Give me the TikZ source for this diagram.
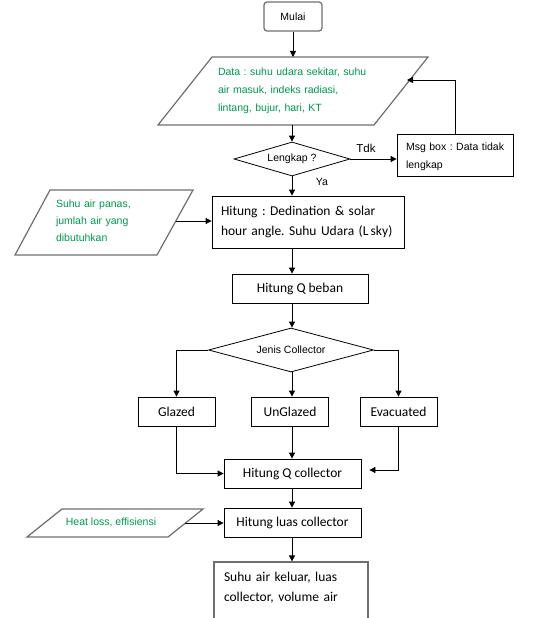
\documentclass[tikz,border=0pt]{standalone}
\usepackage{fontspec}
\setmainfont{Liberation Sans}
\newfontfamily\calib{Carlito}
\usetikzlibrary{shapes.geometric,arrows.meta}
\definecolor{inputgreen}{RGB}{0,150,80}
\definecolor{framegray}{RGB}{110,110,110}
\frenchspacing

\begin{document}
\begin{tikzpicture}[x=1pt,y=-1pt,line width=0.8pt,>={Triangle[length=6pt,width=6pt]},
    every node/.style={inner sep=0pt},
    proc/.style={draw,minimum height=29pt,font=\calib\fontsize{13.5}{20}\selectfont},
    choice/.style={draw,diamond,aspect=3.5,font=\fontsize{10.5}{12}\selectfont},
    inout/.style={draw=framegray,line width=1.2pt},
    greentext/.style={text=inputgreen,align=left,font=\fontsize{10.5}{18}\selectfont},
    arial/.style={align=left,font=\fontsize{10.5}{18}\selectfont}]
  \clip (0,0) rectangle (558,618);

  % input parallelograms
  \draw[inout] (212,57) -- (428,57) -- (374,125) -- (158,125) -- cycle;
  \draw[inout] (50,190) -- (193,190) -- (157,255) -- (15,255) -- cycle;
  \draw[inout] (62,509) -- (203,509) -- (168,537) -- (27,537) -- cycle;
  \coordinate (Dtop) at (292,57);
  \coordinate (Dbot) at (292,125);
  \coordinate (Din)  at (407,80);
  \coordinate (Pout) at (176,221);
  \coordinate (Hout) at (185,523);

  \node(Mulai) at (293,16.5) [draw=framegray,line width=1.2pt,rounded corners=3pt,
      minimum width=58pt,minimum height=29pt,arial] {Mulai};
  \node(Data) at (294,91) [greentext,text width=152pt]
      {Data : suhu udara sekitar, suhu\\air masuk, indeks radiasi,\\lintang, bujur, hari, KT};
  \node(Lengkap) at (292,159) [choice,minimum width=116pt,minimum height=34pt] {Lengkap ?};
  \node(Msg) at (455,155) [draw,minimum width=116pt,minimum height=42pt] {};
  \node(MsgText) at (456,157) [arial,text width=100pt] {Msg box : Data tidak\\lengkap};
  \node(Tdk) at (366,148) [font=\fontsize{11.5}{12}\selectfont] {Tdk};
  \node(Ya) at (322,182) [font=\fontsize{10.5}{12}\selectfont] {Ya};

  \node(Panas) at (96,221) [greentext,text width=80pt,font=\fontsize{10.5}{17}\selectfont]
      {Suhu air panas,\\jumlah air yang\\dibutuhkan};
  \node(Hitung) at (308,222) [proc,minimum width=192pt,minimum height=52pt,text width=174pt,align=left]
      {Hitung : Dedination \& solar\\hour angle. Suhu Udara (L\,sky)};
  \node(Beban) at (300,288.5) [proc,minimum width=136pt] {Hitung Q beban};
  \node(Jenis) at (291,350) [choice,minimum width=165pt,minimum height=44pt] {Jenis Collector};

  \node(Glazed)   at (176.5,411.5) [proc,minimum width=77pt] {Glazed};
  \node(UnGlazed) at (290,411.5)   [proc,minimum width=77pt] {UnGlazed};
  \node(Evac)     at (398.5,411.5) [proc,minimum width=77pt] {Evacuated};

  \node(QColl) at (292.5,473.5) [proc,minimum width=137pt] {Hitung Q collector};
  \node(Heat)  at (111,522) [greentext] {Heat loss, effisiensi};
  \node(QLuas) at (292.5,522.5) [proc,minimum width=137pt] {Hitung luas collector};
  \node(Out) at (291,597) [draw=framegray,line width=1.2pt,minimum width=154pt,minimum height=70pt,
      text width=134pt,align=left,font=\calib\fontsize{13.5}{20}\selectfont]
      {Suhu air keluar, luas\\collector, volume air\\\mbox{}};

  \path[every edge/.style={draw,->}]
            (Mulai.south) edge (Mulai.south |- Dtop)
            (Dbot) edge (Lengkap.north)
            (Lengkap.east) edge (Lengkap.east -| Msg.west)
            (Lengkap.south) edge (Lengkap.south |- Hitung.north)
            (Pout) edge (Pout -| Hitung.west)
            (Lengkap.south |- Hitung.south) edge (Lengkap.south |- Beban.north)
            (Lengkap.south |- Beban.south) edge (Lengkap.south |- Jenis.north)
            (Lengkap.south |- Jenis.south) edge (Lengkap.south |- UnGlazed.north)
            (Lengkap.south |- UnGlazed.south) edge (Lengkap.south |- QColl.north)
            (Lengkap.south |- QColl.south) edge (Lengkap.south |- QLuas.north)
            (Hout) edge (Hout -| QLuas.west)
            (Lengkap.south |- QLuas.south) edge (Lengkap.south |- Out.north);
  \draw[->] (Msg.north) |- (Din);
  \draw[->] (Jenis.west) -| (Glazed.north);
  \draw[->] (Jenis.east) -| (Evac.north);
  \draw[->] (Glazed.south) |- (QColl.west);
  \draw[->,shorten >=8pt] (Evac.south) |- ([yshift=3.5pt]QColl.east);
\end{tikzpicture}
\end{document}
